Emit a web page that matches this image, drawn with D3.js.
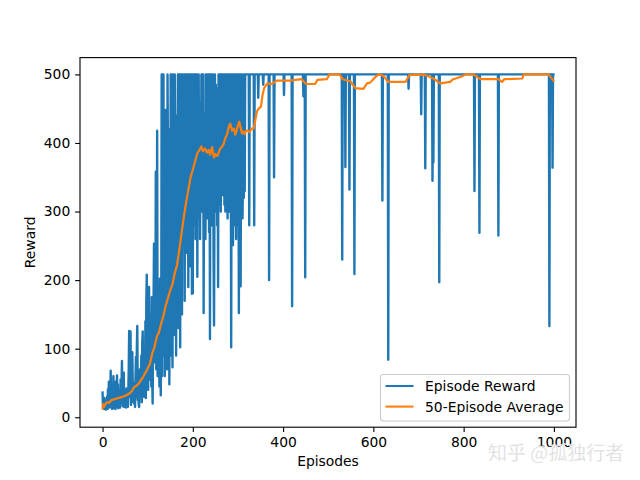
<!DOCTYPE html>
<html><head><meta charset="utf-8">
<script src="https://cdn.jsdelivr.net/npm/d3@7/dist/d3.min.js"></script>
<style>html,body{margin:0;padding:0;background:#fff}svg{display:block}</style>
</head><body><svg id="c" width="640" height="480"></svg>
<script>
// rewards per episode for episodes 0..349
const headRewards = [
36,14,22,12,28,16,19,11,25,13,
30,12,41,18,52,14,35,20,68,15,
24,12,45,17,60,13,28,19,52,12,
34,15,61,22,48,13,38,18,26,14,
55,20,44,82,25,16,38,65,15,27,
18,31,14,42,22,28,15,35,70,126,
30,110,125,18,60,28,95,40,22,50,
20,35,15,58,88,30,104,133,25,55,
20,15,45,70,33,60,90,22,110,125,
35,72,30,95,50,140,28,170,208,60,
90,40,130,190,55,120,75,150,45,175,
60,20,110,165,253,80,190,100,358,70,
160,418,60,190,95,140,45,202,85,32,
120,500,60,500,140,500,90,280,60,410,
448,130,300,70,500,365,110,250,48,420,
150,500,90,500,170,73,330,500,120,450,
500,200,420,90,440,260,410,500,130,500,
340,500,102,500,210,500,150,450,300,500,
250,500,170,500,330,500,240,500,280,500,
190,500,270,500,220,500,300,500,180,500,
181,500,310,500,280,500,260,500,310,500,
205,500,290,500,330,458,260,430,300,500,
300,500,310,500,152,444,300,420,260,500,
300,500,290,500,320,500,270,500,114,500,
330,500,280,500,300,500,230,134,330,500,
300,485,310,480,280,420,190,500,310,500,
320,500,300,500,330,500,324,500,340,500,
310,500,300,500,330,500,338,290,500,310,
500,300,500,330,500,102,500,310,500,251,
500,280,500,300,500,320,260,500,280,500,
300,500,152,500,280,500,191,500,310,500,
290,334,500,320,500,330,500,500,500,500,
500,500,500,500,500,280,500,500,500,500,
500,500,500,500,500,500,280,500,500,500,
500,500,500,500,500,466,500,500,500,500
];
// episodes >= 350 : mostly capped at 500, with the visible drops
const tailEpisodes = [350,355,356,357,368,369,370,379,380,381,401,402,403,419,420,421,444,445,446,448,449,450,
 530,531,532,537,538,539,546,547,548,557,558,559,619,620,621,632,633,634,677,678,679,705,706,707,714,715,716,
 730,731,732,733,734,745,746,747,823,824,825,834,835,836,876,877,878,989,990,991,996,997,998,999];
const tailRewards  = [500,500,485,500,500,200,500,500,350,500,500,470,500,500,162,500,500,468,500,500,204,500,
 500,230,500,500,365,500,500,332,500,500,209,500,500,316,500,500,84,500,500,479,500,500,442,500,500,363,500,
 500,345,500,372,500,500,197,500,500,330,500,500,269,500,500,265,500,500,133,500,500,364,500,500];

const avgEpisodes = [0,2,3,6,10,14,20,30,40,50,60,65,70,75,80,90,100,105,110,115,120,125,130,135,140,150,155,160,165,170,175,180,185,190,195,200,205,210,215,219,222,227,231,235,238,243,245,247,250,254,257,260,264,268,272,276,280,283,287,291,294,297,300,303,306,309,311,315,318,321,326,330,335,338,342,346,351,354,358,365,375,386,416,427,441,451,471,476,497,503,525,532,549,560,578,586,593,604,612,622,633,671,680,708,719,733,748,770,777,796,804,822,837,877,885,890,930,933,988,999];
const avgRewards  = [13,19,15,19,22,21,25,27,29,31,35,38,44,46,49,59,71,78,93,102,117,124,137,148,163,185,194,210,222,244,268,292,313,331,350,361,373,385,390,395,388,392,386,390,383,394,384,379,384,381,385,391,394,398,407,413,424,428,418,421,412,418,426,431,422,414,417,413,418,418,416,421,421,432,446,450,453,468,480,487,486,491,491,492,493,486,486,492,493,500,500,493,490,480,479,487,488,496,500,498,489,489,499,500,498,494,487,489,493,497,500,500,493,493,489,493,494,500,500,491];

const xTicks = [0,200,400,600,800,1000];
const yTicks = [0,100,200,300,400,500];
const seriesNames = ["Episode Reward","50-Episode Average"];
const seriesColors = ["#1f77b4","#ff7f0e"];
const xTitle = "Episodes", yTitle = "Reward", watermark = "知乎 @孤独行者";

const font = "'DejaVu Sans', sans-serif";
const m = {l:80, r:576, t:57.6, b:427.2};
const svg = d3.select("#c");
const x = d3.scaleLinear().domain([-49.95,1048.95]).range([m.l,m.r]);
const y = d3.scaleLinear().domain([-14.5,524.5]).range([m.b,m.t]);

const rewardPts = headRewards.map((v,i)=>[i,v]).concat(tailEpisodes.map((e,i)=>[e,tailRewards[i]]));
const avgPts = avgEpisodes.map((e,i)=>[e,avgRewards[i]]);
const line = d3.line().x(d=>x(d[0])).y(d=>y(d[1]));

svg.append("path").attr("d",line(rewardPts)).attr("fill","none").attr("stroke",seriesColors[0])
   .attr("stroke-width",2.4).attr("stroke-linejoin","round").attr("stroke-linecap","square");
svg.append("path").attr("d",line(avgPts)).attr("fill","none").attr("stroke",seriesColors[1])
   .attr("stroke-width",2.2).attr("stroke-linejoin","round").attr("stroke-linecap","square");

function styleAxis(g){
  g.selectAll(".domain").remove();
  g.selectAll("line").attr("stroke","#000").attr("stroke-width",1.11);
  g.selectAll("text").attr("font-family",font).attr("font-size",13.89).attr("fill","#000");
}
svg.append("g").attr("transform",`translate(0,${m.b})`)
  .call(d3.axisBottom(x).tickValues(xTicks).tickFormat(d3.format("d")).tickSize(4.86).tickPadding(4.86)).call(styleAxis);
svg.append("g").attr("transform",`translate(${m.l},0)`)
  .call(d3.axisLeft(y).tickValues(yTicks).tickFormat(d3.format("d")).tickSize(4.86).tickPadding(4.86)).call(styleAxis);

svg.append("rect").attr("x",m.l).attr("y",m.t).attr("width",m.r-m.l).attr("height",m.b-m.t)
   .attr("fill","none").attr("stroke","#000").attr("stroke-width",1.11);

svg.append("text").attr("x",(m.l+m.r)/2).attr("y",466).attr("text-anchor","middle")
   .attr("font-family",font).attr("font-size",13.89).text(xTitle);
svg.append("text").attr("transform",`translate(35,${(m.t+m.b)/2}) rotate(-90)`).attr("text-anchor","middle")
   .attr("font-family",font).attr("font-size",13.89).text(yTitle);

const lg = svg.append("g");
lg.append("rect").attr("x",380.5).attr("y",374.5).attr("width",189).attr("height",46.5).attr("rx",3)
  .attr("fill","#fff").attr("fill-opacity",0.8).attr("stroke","#ccc").attr("stroke-width",1.11);
seriesNames.forEach((s,i)=>{
  const yy = 386 + i*20.6;
  lg.append("line").attr("x1",385.5).attr("x2",413.5).attr("y1",yy).attr("y2",yy)
    .attr("stroke",seriesColors[i]).attr("stroke-width",2.08);
  lg.append("text").attr("x",425).attr("y",yy+5).attr("font-family",font).attr("font-size",13.89).text(s);
});

svg.append("text").attr("x",488).attr("y",460).attr("font-family","'Noto Sans CJK SC'").attr("font-size",19)
   .attr("fill","#d8d8d8").attr("stroke","#fff").attr("stroke-width",0.3).text(watermark);
</script></body></html>
